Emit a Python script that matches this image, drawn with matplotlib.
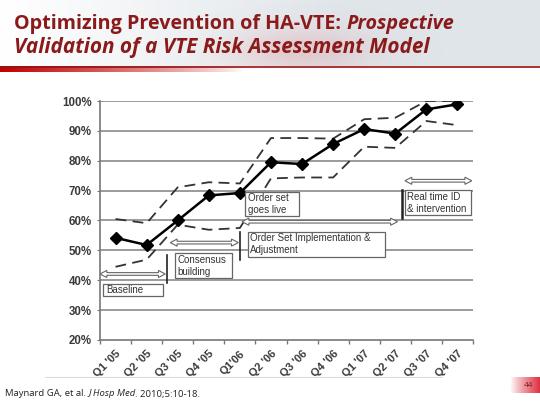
import numpy as np
import matplotlib
matplotlib.use("Agg")
import matplotlib.pyplot as plt
from matplotlib.patches import Rectangle, Polygon

# ---- data ----
quarters = ["Q1 '05", "Q2 '05", "Q3 '05", "Q4 '05", "Q1'06", "Q2 '06",
            "Q3 '06", "Q4 '06", "Q1 '07", "Q2 '07", "Q3 '07", "Q4 '07"]
adequate = [54.2, 51.8, 60.0, 68.4, 69.2, 79.5, 78.9, 85.6, 90.6, 89.1, 97.2, 98.9]
upper_ci = [60.5, 59.1, 71.1, 72.8, 72.4, 87.6, 87.6, 87.4, 93.9, 94.4, 100.0, 100.0]
lower_ci = [44.5, 46.9, 58.6, 56.9, 57.5, 74.1, 74.4, 74.4, 84.7, 84.3, 93.3, 91.9]
yticks = [20, 30, 40, 50, 60, 70, 80, 90, 100]

W, H = 540, 405
fig = plt.figure(figsize=(W / 100, H / 100), dpi=100)
renderer = fig.canvas.get_renderer()

# ---- header background ----
bg = fig.add_axes([0, 0, 1, 1], zorder=-10)
bg.set_xlim(0, W); bg.set_ylim(H, 0); bg.axis("off")
gx = np.linspace(0, 1, 300)
row = np.zeros((1, 300, 3))
c0 = np.array([1.0, 1.0, 1.0]); c1 = np.array([0.88, 0.90, 0.92])
t = np.clip(gx * 1.6, 0, 1)[:, None]
row[0] = c0 * (1 - t) + c1 * t
bg.imshow(np.repeat(row, 10, axis=0), extent=[0, W, 66, 0], aspect="auto")
blob = np.zeros((40, 300, 4))
yy, xx = np.mgrid[0:40, 0:300]
d = ((xx - 150) / 70.0) ** 2 + ((yy - 30) / 14.0) ** 2
blob[..., 0] = 0.85; blob[..., 1] = 0.45; blob[..., 2] = 0.45
blob[..., 3] = 0.25 * np.exp(-d)
bg.imshow(blob, extent=[150, 450, 66, 0], aspect="auto")
band = np.zeros((1, 300, 4))
band[0, :, 0] = 0.75; band[0, :, 1] = 0.0; band[0, :, 2] = 0.0
band[0, :, 3] = np.clip(1 - gx / 0.45, 0, 1) ** 0.8
bg.imshow(band, extent=[0, W, 72.5, 66.5], aspect="auto")
bg.plot([0, W], [67, 67], color="#9a1010", lw=1.2)
bg.plot([45, 442], [376.5, 376.5], color="#dcdcdc", lw=0.8)
pg = np.zeros((1, 100, 4))
pg[0, :, 0] = 0.86; pg[0, :, 1] = 0.2; pg[0, :, 2] = 0.25
pg[0, :, 3] = np.linspace(0, 1, 100) ** 0.9
bg.imshow(pg, extent=[510, 540, 393, 377], aspect="auto")
bg.text(529, 385.5, "44", color="#8b1a1a", fontsize=6, ha="center", va="center",
        family="Open Sans")

# ---- title (Open Sans bold, size fitted to the slide width) ----
tcol = "#8b1a1a"
tfam = "Open Sans"
x0_px, y1_px, y2_px, end1_px, end2_px = 14, 24, 47, 456, 430
size = 14.0
ta = fig.text(x0_px / W, 1 - y1_px / H, "Optimizing Prevention of HA-VTE: ",
              color=tcol, fontsize=size, fontweight="bold", family=tfam,
              va="center", ha="left")
tb = fig.text(0, 1 - y1_px / H, "Prospective", color=tcol, fontsize=size,
              fontweight="bold", fontstyle="italic", family=tfam, va="center",
              ha="left")
wa = ta.get_window_extent(renderer).width
wb = tb.get_window_extent(renderer).width
size1 = size * (end1_px - x0_px) / (wa + wb)
ta.set_fontsize(size1); tb.set_fontsize(size1)
wa = ta.get_window_extent(renderer).width
tb.set_x((x0_px + wa) / W)
tc = fig.text(x0_px / W, 1 - y2_px / H, "Validation of a VTE Risk Assessment Model",
              color=tcol, fontsize=size1, fontweight="bold", fontstyle="italic",
              family=tfam, va="center", ha="left")
wc = tc.get_window_extent(renderer).width
tc.set_fontsize(size1 * (end2_px - x0_px) / wc)

# ---- footer ----
fy = 1 - 394 / H
ft = fig.text(5 / W, fy, "Maynard GA, et al. ", fontsize=6.8, family="Open Sans",
              color="#222222", va="center")
r = ft.get_window_extent(renderer)
ft2 = fig.text(r.x1 / W, fy, "J Hosp Med", fontsize=6.8, family="Open Sans",
               fontstyle="italic", color="#222222", va="center")
r = ft2.get_window_extent(renderer)
fig.text((r.x1 - 1) / W, fy, ". 2010;5:10-18.", fontsize=6.8, family="Open Sans",
         color="#222222", va="center")

# ---- chart ----
ax = fig.add_axes([100 / W, 1 - 340 / H, 373 / W, 239 / H])
ax.set_xlim(0, 12)
ax.set_ylim(20, 100)
for s in ["top", "right"]:
    ax.spines[s].set_visible(False)
for s in ["left", "bottom"]:
    ax.spines[s].set_color("#777777")
    ax.spines[s].set_linewidth(1.2)
for yv in yticks[1:]:
    ax.axhline(yv, color="#8a8a8a", lw=1.2, zorder=1)

ax.set_yticks(yticks)
ax.set_yticklabels([f"{v}%" for v in yticks], fontsize=8.3, fontweight="bold",
                   color="#3a3a3a", family="Liberation Sans")
ax.set_xticks(np.arange(0, 13))
ax.set_xticklabels([])
ax.set_xticks(np.arange(12) + 0.5, minor=True)
ax.set_xticklabels(quarters, minor=True, rotation=45, ha="right", va="top",
                   rotation_mode="anchor", fontsize=8, fontweight="bold",
                   color="#3a3a3a", family="Liberation Sans")
ax.tick_params(axis="x", which="major", length=3, color="#777777", width=1)
ax.tick_params(axis="x", which="minor", length=0, pad=6)
ax.tick_params(axis="y", length=2, color="#777777", pad=4)

xs = np.arange(len(quarters)) + 0.5
ax.plot(xs, upper_ci, color="#333333", lw=1.3, dashes=(6, 3.5), zorder=3)
ax.plot(xs, lower_ci, color="#333333", lw=1.3, dashes=(6, 3.5), zorder=3)
ax.plot(xs, adequate, color="black", lw=1.8, marker="D", markersize=6.5, zorder=4)


def box(x0, x1, y0, y1, text):
    ax.add_patch(Rectangle((x0, y0), x1 - x0, y1 - y0, facecolor="white",
                           edgecolor="#666666", lw=0.9, zorder=5))
    ax.text(x0 + 0.08, (y0 + y1) / 2, text, fontsize=7, color="#333333",
            family="Liberation Sans", va="center", ha="left", zorder=6,
            linespacing=1.25)


def darrow(x0, x1, y, sh=0.9, hh=2.4, hl=0.22):
    pts = [(x0, y), (x0 + hl, y + hh / 2), (x0 + hl, y + sh / 2),
           (x1 - hl, y + sh / 2), (x1 - hl, y + hh / 2), (x1, y),
           (x1 - hl, y - hh / 2), (x1 - hl, y - sh / 2), (x0 + hl, y - sh / 2),
           (x0 + hl, y - hh / 2)]
    ax.add_patch(Polygon(pts, closed=True, facecolor="white", edgecolor="#666666",
                         lw=0.8, zorder=5))


darrow(0.0, 2.1, 42.1)
box(0.11, 2.04, 34.7, 38.6, "Baseline")
ax.plot([2.17, 2.17], [39.2, 48.5], color="#222222", lw=1.2, zorder=5)
darrow(2.26, 4.45, 52.6)
box(2.42, 4.25, 40.7, 49.0, "Consensus\nbuilding")
ax.plot([4.52, 4.52], [46.8, 56.2], color="#222222", lw=1.2, zorder=5)
box(4.75, 9.16, 47.9, 56.3, "Order Set Implementation &\nAdjustment")
darrow(4.57, 9.57, 59.6)
box(4.68, 6.40, 61.6, 69.6, "Order set\ngoes live")
ax.plot([9.70, 9.70], [60.8, 70.2], color="#222222", lw=1.8, zorder=5)
box(9.81, 11.94, 61.8, 70.2, "Real time ID\n& intervention")
darrow(9.81, 11.96, 73.3)

fig.savefig("out.png", dpi=100)
